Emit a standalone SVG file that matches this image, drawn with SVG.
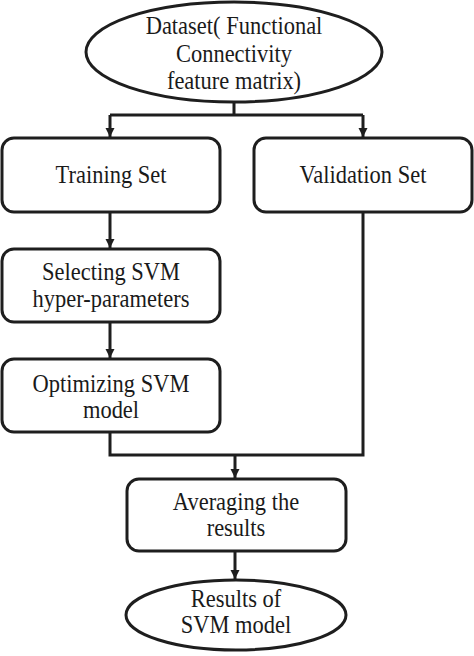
<svg xmlns="http://www.w3.org/2000/svg" width="474" height="656" viewBox="0 0 474 656">
<style>
.n{fill:#fff;stroke:#1e1e1e;stroke-width:3}
.c{fill:none;stroke:#1e1e1e;stroke-width:3}
text{font-family:'Liberation Serif','DejaVu Serif',serif;font-size:22.5px;fill:#1a1a1a;text-anchor:middle}
</style>
<defs>
<marker id="ah" viewBox="0 0 10 10" refX="10" refY="5" markerWidth="3" markerHeight="3.2" orient="auto" markerUnits="strokeWidth">
<path d="M0,0 L10,5 L0,10 z" fill="#1e1e1e"/>
</marker>
</defs>
<g id="connectors">
<path class="c" d="M234,102 V115 M110,115 H363"/>
<path class="c" d="M110,115 V137" marker-end="url(#ah)"/>
<path class="c" d="M363,115 V137" marker-end="url(#ah)"/>
<path class="c" d="M110,212 V248" marker-end="url(#ah)"/>
<path class="c" d="M110,322 V358" marker-end="url(#ah)"/>
<path class="c" d="M110,432 V455 H363 V212"/>
<path class="c" d="M235,455 V478" marker-end="url(#ah)"/>
<path class="c" d="M235,551 V579" marker-end="url(#ah)"/>
</g>
<g id="dataset">
<ellipse class="n" cx="234" cy="52" rx="148" ry="50"/>
<text transform="translate(234,34) scale(1,1.12)">Dataset( Functional</text>
<text transform="translate(234,62) scale(1,1.12)">Connectivity</text>
<text transform="translate(234,89) scale(1,1.12)">feature matrix)</text>
</g>
<g id="training">
<rect class="n" x="2" y="138" width="218" height="74" rx="12"/>
<text transform="translate(111,183) scale(1,1.12)">Training Set</text>
</g>
<g id="validation">
<rect class="n" x="254" y="138" width="218" height="74" rx="12"/>
<text transform="translate(363,183) scale(1,1.12)">Validation Set</text>
</g>
<g id="selecting">
<rect class="n" x="2" y="249" width="218" height="73" rx="12"/>
<text transform="translate(111,280) scale(1,1.12)">Selecting SVM</text>
<text transform="translate(111,307) scale(1,1.12)">hyper-parameters</text>
</g>
<g id="optimizing">
<rect class="n" x="2" y="359" width="218" height="73" rx="12"/>
<text transform="translate(111,392) scale(1,1.12)">Optimizing SVM</text>
<text transform="translate(111,418) scale(1,1.12)">model</text>
</g>
<g id="averaging">
<rect class="n" x="127" y="479" width="219" height="72" rx="12"/>
<text transform="translate(236,510) scale(1,1.12)">Averaging the</text>
<text transform="translate(236,536) scale(1,1.12)">results</text>
</g>
<g id="results">
<ellipse class="n" cx="236" cy="615" rx="110" ry="35"/>
<text transform="translate(236,607) scale(1,1.12)">Results of</text>
<text transform="translate(236,633) scale(1,1.12)">SVM model</text>
</g>
</svg>
